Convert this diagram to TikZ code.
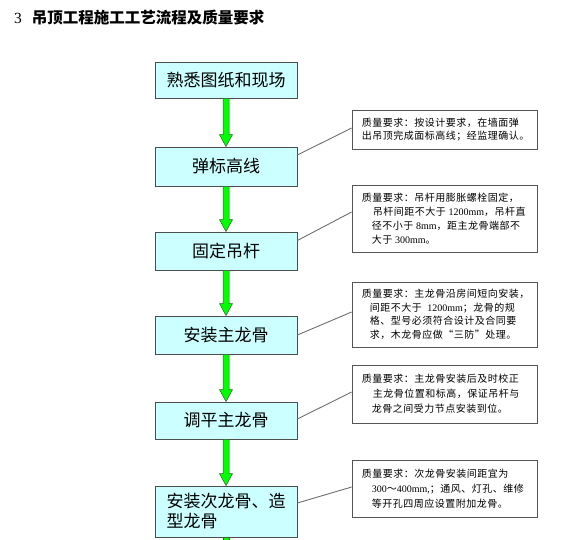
\documentclass[tikz,border=0pt]{standalone}
\usepackage{fontspec}
\setmainfont{Liberation Serif}
\newfontfamily\cjk{Noto Sans CJK SC}
\newfontfamily\cjknote[LetterSpace=5]{Noto Sans CJK SC}
\newfontfamily\latnote{Liberation Serif}
\usetikzlibrary{calc}
\definecolor{boxfill}{HTML}{CCFFFF}
\definecolor{boxline}{HTML}{4D4D4D}
\definecolor{noteline}{HTML}{555555}
\definecolor{connline}{HTML}{6E6E6E}
\definecolor{arrowfill}{HTML}{00FF00}
\definecolor{arrowline}{HTML}{3A5A3A}
\newcommand\lt[1]{{\latnote #1}}
\newcommand\flowarrow[2]{%
  \filldraw[arrowsty] let \p1=(#1.south), \p2=(#2.north) in
    (\x1-3pt,\y1) -- (\x1+3pt,\y1) -- (\x1+3pt,\y2+12pt) -- (\x1+6.5pt,\y2+12pt)
    -- (\x1,\y2) -- (\x1-6.5pt,\y2+12pt) -- (\x1-3pt,\y2+12pt) -- cycle;}
\begin{document}
\begin{tikzpicture}[x=1pt,y=-1pt,
  mainbox/.style={draw=boxline, fill=boxfill, line width=0.8pt, minimum width=142pt,
    inner sep=0pt, font=\cjk\fontsize{17}{20}\selectfont},
  notebox/.style={draw=noteline, fill=white, line width=0.8pt, minimum width=185pt, inner sep=0pt},
  notetext/.style={anchor=west, inner sep=0pt, align=left, font=\cjknote\fontsize{10}{14}\selectfont},
  conn/.style={draw=connline, line width=0.9pt},
  arrowsty/.style={fill=arrowfill, draw=arrowline, line width=0.5pt, line join=miter}]
\useasboundingbox (0,0) rectangle (568,539);
\begin{scope}
\clip (0,0) rectangle (568,539);
% title
\node[anchor=west, inner sep=0pt, font=\fontsize{15.5}{18}\selectfont] (title) at (14,18)
  {3\hspace{10pt}{\cjk\bfseries 吊顶工程施工工艺流程及质量要求}};
% main flow
\node[mainbox, minimum height=36pt] (b1) at (226,80) {熟悉图纸和现场};
\node[mainbox, minimum height=39pt] (b2) at (226,166.5) {弹标高线};
\node[mainbox, minimum height=38pt] (b3) at (226,251) {固定吊杆};
\node[mainbox, minimum height=38pt] (b4) at (226,335) {安装主龙骨};
\node[mainbox, minimum height=37pt] (b5) at (226,420.5) {调平主龙骨};
\node[mainbox, minimum height=51pt, align=left] (b6) at (226,511.5) {安装次龙骨、造\\型龙骨};
\flowarrow{b1}{b2}
\flowarrow{b2}{b3}
\flowarrow{b3}{b4}
\flowarrow{b4}{b5}
\flowarrow{b5}{b6}
\filldraw[arrowsty] let \p1=(b6.south) in (\x1-3pt,\y1) rectangle (\x1+3pt,\y1-10pt);
% notes
\node[notebox, minimum height=39pt] (n1) at (444.5,129.5) {};
\node[notebox, minimum height=67pt] (n2) at (444.5,218.5) {};
\node[notebox, minimum height=65pt] (n3) at (444.5,314.5) {};
\node[notebox, minimum height=58pt] (n4) at (444.5,394) {};
\node[notebox, minimum height=57pt] (n5) at (444.5,488.5) {};
\node[notetext, font=\cjknote\fontsize{10}{12.5}\selectfont] (t1) at ($(n1.west)+(10,0)$)
  {质量要求：按设计要求，在墙面弹\\出吊顶完成面标高线；经监理确认。};
\node[notetext, font=\cjknote\fontsize{10}{14}\selectfont] (t2) at ($(n2.west)+(10,0)$)
  {质量要求：吊杆用膨胀螺栓固定，\\
   \hspace*{11pt}吊杆间距不大于 \lt{1200mm}，吊杆直\\
   \hspace*{10pt}径不小于 \lt{8mm}，距主龙骨端部不\\
   \hspace*{10pt}大于 \lt{300mm}。};
\node[notetext, font=\cjknote\fontsize{10}{13.5}\selectfont] (t3) at ($(n3.west)+(10,0)$)
  {质量要求：主龙骨沿房间短向安装，\\
   \hspace*{8pt}间距不大于\ \ \lt{1200mm}；龙骨的规\\
   \hspace*{8pt}格、型号必须符合设计及合同要\\
   \hspace*{8pt}求，木龙骨应做“三防”处理。};
\node[notetext, font=\cjknote\fontsize{10}{15}\selectfont] (t4) at ($(n4.west)+(10,0)$)
  {质量要求：主龙骨安装后及时校正\\
   \hspace*{11pt}主龙骨位置和标高，保证吊杆与\\
   \hspace*{10pt}龙骨之间受力节点安装到位。};
\node[notetext, font=\cjknote\fontsize{10}{15}\selectfont] (t5) at ($(n5.west)+(10,0)$)
  {质量要求：次龙骨安装间距宜为\\
   \hspace*{10pt}\lt{300}～\lt{400mm,}；通风、灯孔、维修\\
   \hspace*{10pt}等开孔四周应设置附加龙骨。};
% connectors
\draw[conn] ($(b2.east)+(0,-11.5)$) -- ($(n1.west)+(0,-1.5)$);
\draw[conn] ($(b3.east)+(0,-10.5)$) -- ($(n2.west)+(0,-6.5)$);
\draw[conn] (b4.east) -- ($(n3.west)+(0,-2.5)$);
\draw[conn] ($(b5.east)+(0,-1.5)$) -- ($(n4.west)+(0,-2)$);
\draw[conn] ($(b6.east)+(0,-8.5)$) -- ($(n5.west)+(0,-1.5)$);
\end{scope}
\end{tikzpicture}
\end{document}
